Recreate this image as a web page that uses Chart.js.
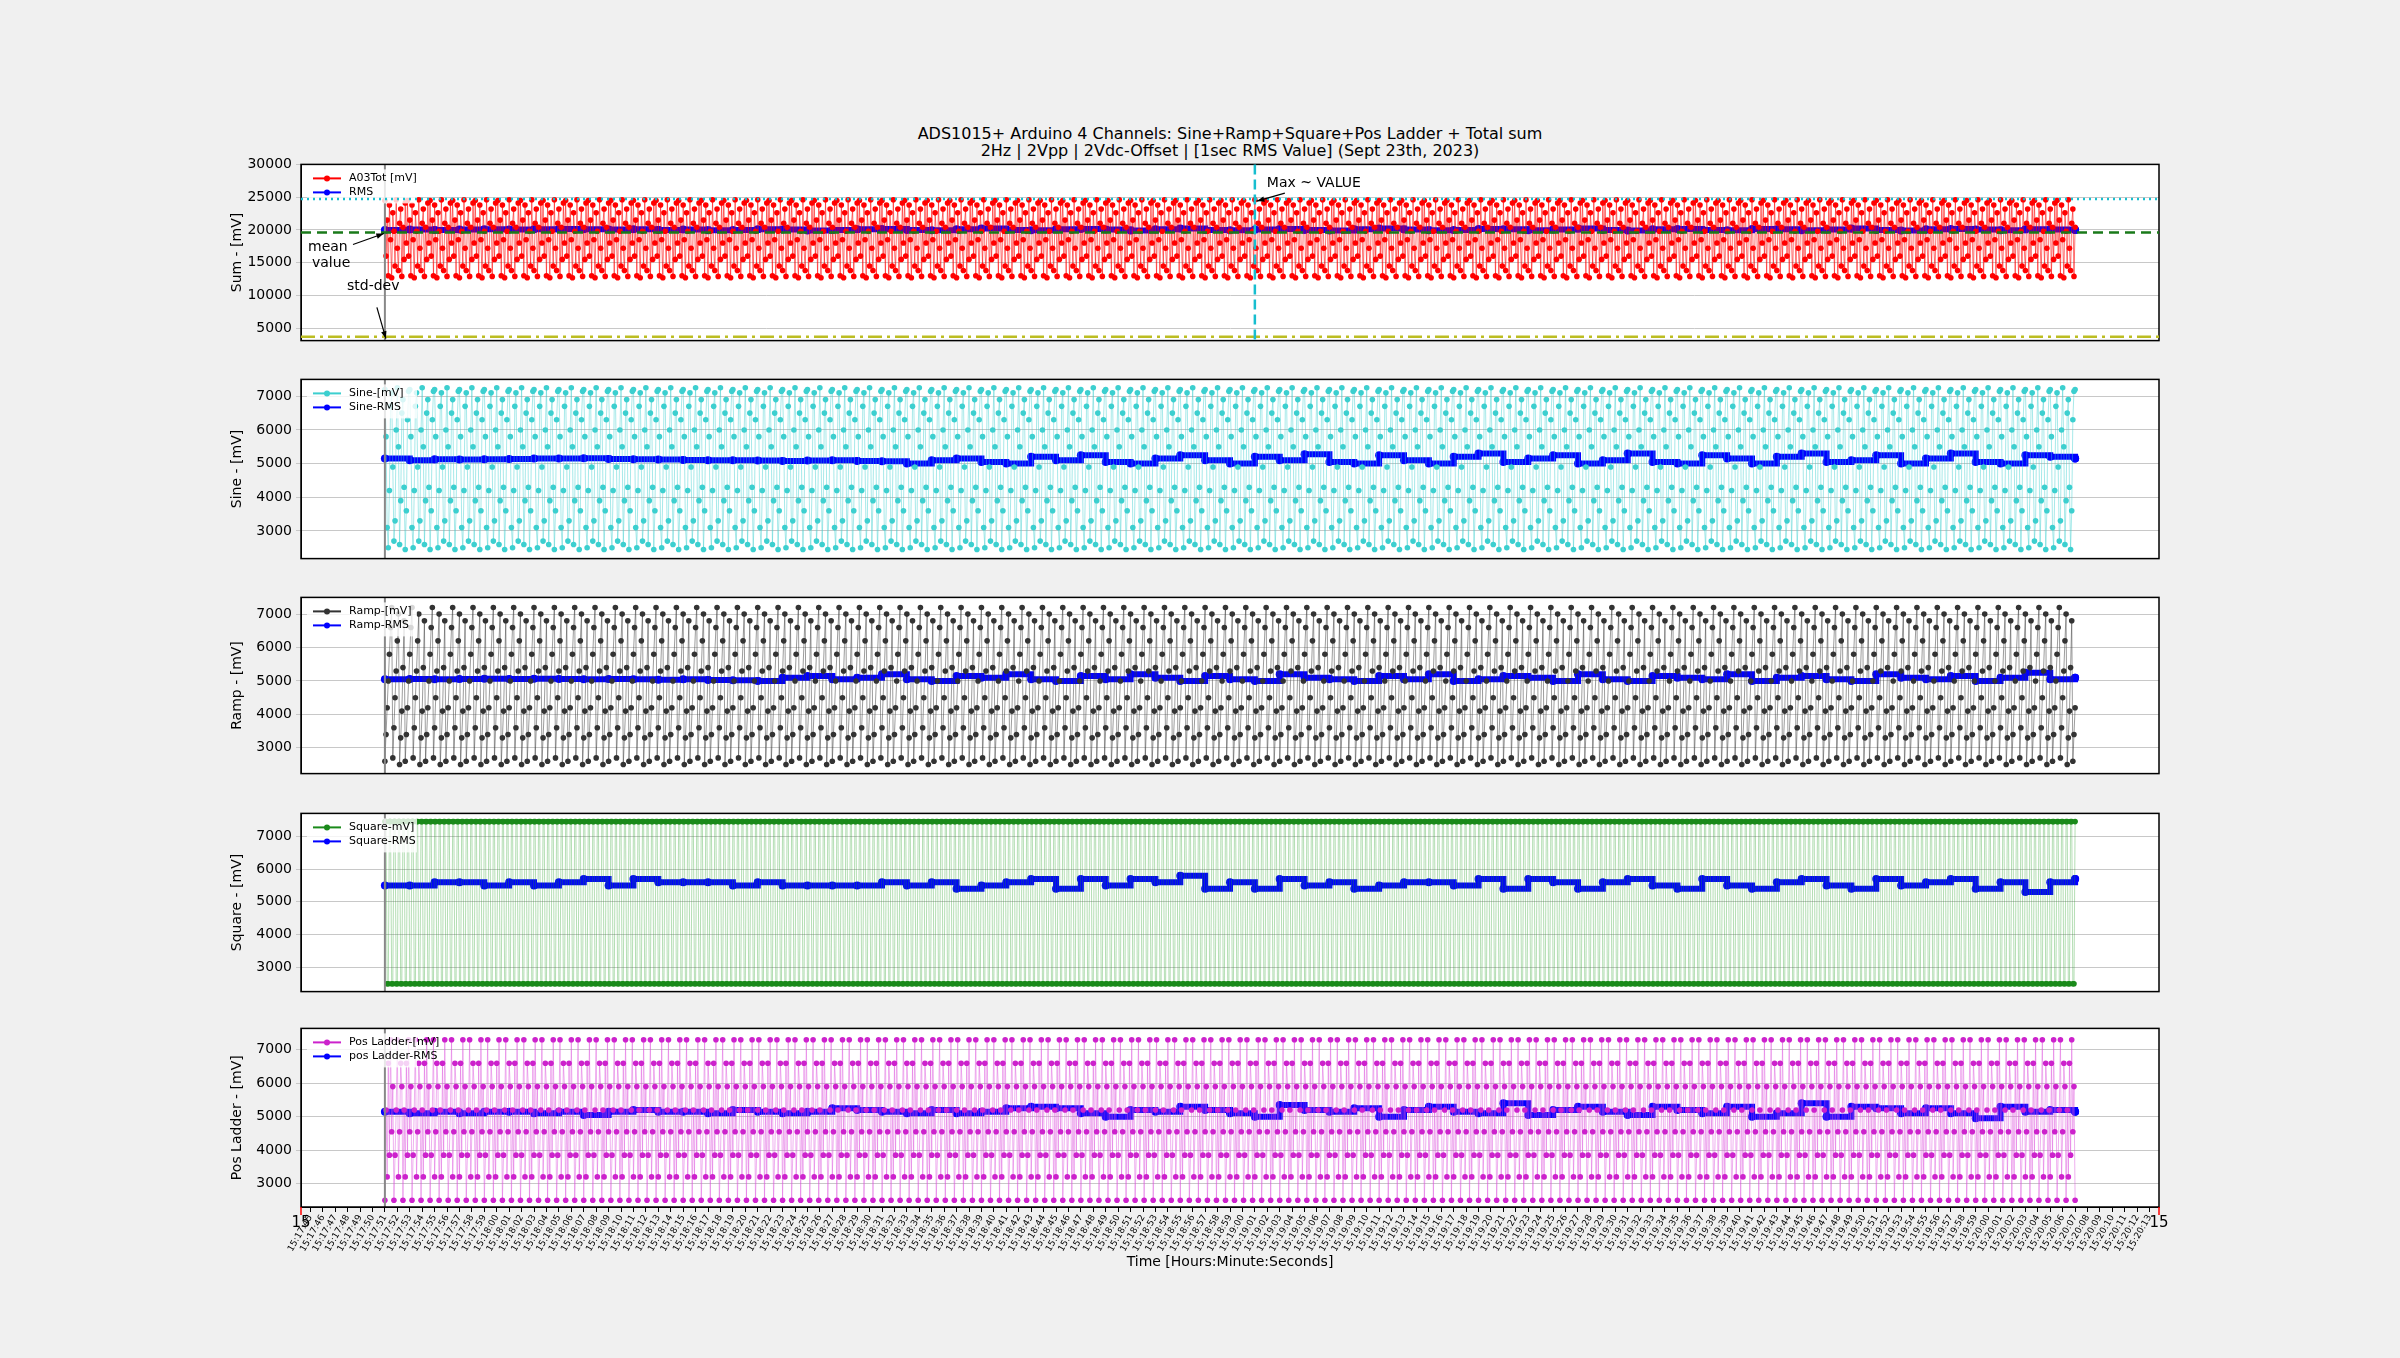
<!DOCTYPE html>
<html>
<head>
<meta charset="utf-8">
<script src="https://cdn.jsdelivr.net/npm/chart.js@4.4.0/dist/chart.umd.min.js"></script>
<style>
  body { margin: 0; background: #f0f0f0; width: 2400px; height: 1358px; position: relative; overflow: hidden; font-family: "DejaVu Sans", sans-serif; }
  canvas { position: absolute; left: 0; }
  .title { position: absolute; left: 301px; width: 1858px; text-align: center; font-size: 16px; line-height: 17px; top: 125px; color: #000; }
  .xlabel { position: absolute; left: 301px; width: 1858px; text-align: center; font-size: 14px; top: 1253px; }
</style>
</head>
<body>
<div class="title">ADS1015+ Arduino 4 Channels: Sine+Ramp+Square+Pos Ladder + Total sum<br>2Hz | 2Vpp | 2Vdc-Offset | [1sec RMS Value] (Sept 23th, 2023)</div>
<canvas id="c1"></canvas>
<canvas id="c2"></canvas>
<canvas id="c3"></canvas>
<canvas id="c4"></canvas>
<canvas id="c5"></canvas>
<div class="xlabel">Time [Hours:Minute:Seconds]</div>
<script>
//time axis: seconds after 15:17:45
const tStart = 6; //15:17:51
const tEnd = 142; //15:20:07
const samplesPerSec = 11;

//raw signal samples (repeated block)
const sumSamples = [24500, 16000, 21500, 13000, 23800, 18500, 12700, 22600, 19800, 14500, 24600, 17200, 13800, 21000, 23200, 12900, 20400, 15500, 24100, 18000];
const sineSamples = [7200, 5800, 3100, 2500, 4200, 6700, 7100, 4900, 2700, 3300, 6000, 7250, 5500, 2600, 3900, 6500, 6900, 4300, 2450, 3600, 6300, 7150];
const rampSamples = [2600, 3400, 4200, 5000, 5800, 6600, 7200, 2700, 3600, 4500, 5300, 6200, 7000, 2500, 3300, 4100, 5400, 6800];
const squareSamples = [7450, 7450, 2500, 2500];
const ladderSamples = [2500, 5200, 3200, 6600, 3850, 7300, 4550, 5900, 2500, 3850, 5200, 7300, 3200, 4550, 6600, 5900];

//RMS values, one per 2 seconds from 15:17:51
const sumRms = [20000, 20050, 20000, 20050, 20100, 20050, 20100, 20150, 20100, 20050, 20100, 20000, 20050, 19950, 20000, 20100, 20050, 19900, 20000, 20100, 20150, 20000, 19950, 20100, 20200, 20000, 19950, 20100, 20150, 20050, 19900, 20100, 20200, 20000, 19950, 20050, 20150, 20000, 19900, 20100, 20200, 20050, 19950, 20000, 20150, 20100, 19950, 20050, 20200, 20000, 19900, 20100, 20150, 20000, 19950, 20150, 20100, 19950, 20050, 20200, 20000, 19900, 20100, 20150, 20050, 19950, 20100, 20050, 20000];
const sineRms = [5150, 5100, 5130, 5120, 5130, 5140, 5150, 5150, 5160, 5140, 5130, 5120, 5110, 5100, 5100, 5090, 5080, 5090, 5100, 5080, 5070, 5000, 5100, 5150, 5050, 5000, 5200, 5100, 5250, 5050, 5000, 5150, 5250, 5100, 5000, 5200, 5100, 5280, 5050, 5000, 5250, 5100, 5000, 5200, 5300, 5050, 5150, 5250, 5000, 5100, 5300, 5050, 5000, 5250, 5150, 5000, 5200, 5300, 5050, 5100, 5250, 5000, 5150, 5300, 5050, 5000, 5250, 5200, 5150];
const rampRms = [5050, 5060, 5050, 5060, 5070, 5060, 5070, 5060, 5050, 5060, 5050, 5040, 5050, 5030, 5020, 5000, 5100, 5150, 5050, 5100, 5200, 5050, 5000, 5150, 5100, 5200, 5050, 5000, 5150, 5050, 5200, 5100, 5000, 5150, 5050, 5000, 5200, 5100, 5050, 5000, 5150, 5050, 5200, 5000, 5050, 5150, 5100, 5000, 5200, 5050, 5000, 5150, 5100, 5050, 5200, 5000, 5100, 5150, 5050, 5000, 5200, 5100, 5050, 5150, 5000, 5100, 5250, 5050, 5100];
const squareRms = [5500, 5500, 5600, 5600, 5500, 5600, 5500, 5600, 5700, 5500, 5700, 5600, 5600, 5600, 5500, 5600, 5500, 5500, 5500, 5500, 5600, 5500, 5600, 5400, 5500, 5600, 5700, 5400, 5700, 5500, 5700, 5600, 5800, 5400, 5600, 5400, 5700, 5500, 5600, 5400, 5500, 5600, 5600, 5500, 5700, 5400, 5700, 5600, 5400, 5600, 5700, 5500, 5400, 5700, 5500, 5400, 5600, 5700, 5500, 5400, 5700, 5500, 5600, 5700, 5400, 5600, 5300, 5600, 5700];
const ladderRms = [5150, 5100, 5150, 5100, 5150, 5150, 5100, 5150, 5050, 5150, 5200, 5150, 5150, 5100, 5200, 5150, 5100, 5150, 5250, 5200, 5150, 5100, 5200, 5100, 5150, 5250, 5300, 5250, 5100, 5000, 5200, 5150, 5300, 5200, 5100, 5000, 5350, 5200, 5150, 5250, 5000, 5200, 5300, 5150, 5100, 5400, 5050, 5200, 5300, 5150, 5050, 5300, 5200, 5100, 5300, 5000, 5100, 5400, 5000, 5300, 5250, 5100, 5250, 5100, 4950, 5300, 5150, 5200, 5150];

//reference lines top panel
const maxValue = 24700;
const meanValue = 19600;
const stdDevValue = 3700;
const maxTime = 76;

const xMin = -0.75, xMax = 148.75;
const plotLeft = 301, plotRight = 2159;

function tiled(samples) {
  const out = [];
  let i = 0;
  for (let k = 0; k <= (tEnd - tStart) * samplesPerSec; k++) {
    out.push({ x: tStart + k / samplesPerSec, y: samples[i % samples.length] });
    i++;
  }
  return out;
}
function rmsPoints(vals) {
  return vals.map((v, i) => ({ x: tStart + i * 2, y: v })).concat([{ x: tEnd, y: vals[vals.length - 1] }]);
}
function tickName(v) {
  const s = 45 + v;
  const m = 17 + Math.floor(s / 60);
  return "15:" + m + ":" + String(s % 60).padStart(2, "0");
}

const whiteArea = {
  id: "whiteArea",
  beforeDraw(chart) {
    const a = chart.chartArea, ctx = chart.ctx;
    ctx.save();
    ctx.fillStyle = "#fff";
    ctx.fillRect(a.left, a.top, a.width, a.height);
    ctx.restore();
  },
  afterDraw(chart) {
    const a = chart.chartArea, ctx = chart.ctx, x = chart.scales.x;
    ctx.save();
    //start marker line
    ctx.strokeStyle = "#888";
    ctx.lineWidth = 2;
    ctx.beginPath();
    ctx.moveTo(x.getPixelForValue(tStart), a.top);
    ctx.lineTo(x.getPixelForValue(tStart), a.bottom);
    ctx.stroke();
    ctx.strokeStyle = "#000";
    ctx.lineWidth = 1.5;
    ctx.strokeRect(a.left, a.top, a.width, a.height);
    //y title
    ctx.save();
    ctx.translate(237, (a.top + a.bottom) / 2);
    ctx.rotate(-Math.PI / 2);
    ctx.font = "14px DejaVu Sans"; ctx.fillStyle = "#000"; ctx.textAlign = "center"; ctx.textBaseline = "middle";
    ctx.fillText(chart.options.plugins.yTitle, 0, 0);
    ctx.restore();
    //legend
    const items = chart.options.plugins.innerLegend || [];
    ctx.font = "11px DejaVu Sans";
    ctx.textBaseline = "middle";
    ctx.fillStyle = "rgba(255,255,255,0.8)";
    ctx.fillRect(a.left + 6, a.top + 5, 110, 34);
    items.forEach((it, i) => {
      const y = a.top + 14 + i * 14;
      ctx.strokeStyle = it.c;
      ctx.fillStyle = it.c;
      ctx.lineWidth = 2;
      ctx.beginPath(); ctx.moveTo(a.left + 12, y); ctx.lineTo(a.left + 40, y); ctx.stroke();
      ctx.beginPath(); ctx.arc(a.left + 26, y, 3, 0, 2 * Math.PI); ctx.fill();
      ctx.fillStyle = "#000";
      ctx.fillText(it.t, a.left + 48, y);
    });
    ctx.restore();
  }
};

const annotate = {
  id: "annotate",
  afterDraw(chart) {
    const a = chart.chartArea, ctx = chart.ctx, x = chart.scales.x, y = chart.scales.y;
    ctx.save();
    function hline(v, color, dash, w) {
      ctx.strokeStyle = color; ctx.lineWidth = w; ctx.setLineDash(dash);
      ctx.beginPath(); ctx.moveTo(a.left, y.getPixelForValue(v)); ctx.lineTo(a.right, y.getPixelForValue(v)); ctx.stroke();
    }
    hline(maxValue, "#17becf", [2, 4], 2.5);
    hline(meanValue, "#1a7a1a", [10, 6], 2.5);
    hline(stdDevValue, "#bcbd22", [14, 5, 3, 5], 2.5);
    ctx.strokeStyle = "#17becf"; ctx.lineWidth = 2.5; ctx.setLineDash([10, 5]);
    const mx = x.getPixelForValue(maxTime);
    ctx.beginPath(); ctx.moveTo(mx, a.top); ctx.lineTo(mx, a.bottom); ctx.stroke();
    ctx.setLineDash([]);
    function arrow(x1, y1, x2, y2) {
      ctx.strokeStyle = "#000"; ctx.fillStyle = "#000"; ctx.lineWidth = 1.2;
      ctx.beginPath(); ctx.moveTo(x1, y1); ctx.lineTo(x2, y2); ctx.stroke();
      const ang = Math.atan2(y2 - y1, x2 - x1);
      ctx.beginPath();
      ctx.moveTo(x2, y2);
      ctx.lineTo(x2 - 8 * Math.cos(ang - 0.35), y2 - 8 * Math.sin(ang - 0.35));
      ctx.lineTo(x2 - 8 * Math.cos(ang + 0.35), y2 - 8 * Math.sin(ang + 0.35));
      ctx.closePath(); ctx.fill();
    }
    ctx.font = "14px DejaVu Sans";
    ctx.fillStyle = "#000";
    ctx.textBaseline = "alphabetic";
    const sx = x.getPixelForValue(tStart);
    ctx.fillText("Max ~ VALUE", mx + 12, y.getPixelForValue(maxValue) - 12);
    arrow(mx + 30, y.getPixelForValue(maxValue) - 6, mx + 2, y.getPixelForValue(maxValue) + 2);
    ctx.fillStyle = "#000";
    ctx.fillText("mean", a.left + 7, y.getPixelForValue(meanValue) + 18);
    ctx.fillText("value", a.left + 11, y.getPixelForValue(meanValue) + 34);
    arrow(a.left + 52, y.getPixelForValue(meanValue) + 12, sx - 1, y.getPixelForValue(meanValue) + 1);
    ctx.fillStyle = "#000";
    ctx.fillText("std-dev", a.left + 46, y.getPixelForValue(10000) - 5);
    arrow(sx - 8, y.getPixelForValue(10000) + 12, sx + 1, y.getPixelForValue(stdDevValue) + 2);
    ctx.restore();
  }
};

const endLabels = {
  id: "endLabels",
  afterDraw(chart) {
    const a = chart.chartArea, ctx = chart.ctx;
    ctx.save();
    ctx.strokeStyle = "red"; ctx.lineWidth = 1.5;
    [a.left, a.right].forEach((px) => {
      ctx.beginPath(); ctx.moveTo(px, a.bottom); ctx.lineTo(px, a.bottom + 8); ctx.stroke();
    });
    ctx.fillStyle = "#000"; ctx.font = "15px DejaVu Sans"; ctx.textAlign = "center"; ctx.textBaseline = "top";
    ctx.fillText("15", a.left, a.bottom + 9);
    ctx.fillText("15", a.right, a.bottom + 9);
    ctx.restore();
  }
};

function buildChart(cv, h, withX, extra, cfg) {
  cv.width = 2400; cv.height = h;
  cv.style.width = "2400px"; cv.style.height = h + "px";
  const plugins = [whiteArea];
  if (cfg.annotate) plugins.push(annotate);
  if (withX) plugins.push(endLabels);
  return new Chart(cv, {
    type: "line",
    data: { datasets: cfg.datasets },
    plugins: plugins,
    options: {
      responsive: false,
      animation: false,
      layout: { padding: { left: 0, right: 2400 - plotRight, top: 0, bottom: 0 } },
      plugins: { legend: { display: false }, tooltip: { enabled: false }, innerLegend: cfg.legend, yTitle: cfg.yTitle },
      scales: {
        x: {
          type: "linear", min: xMin, max: xMax,
          display: withX,
          afterBuildTicks(ax) { ax.ticks = []; for (let v = 0; v <= 148; v++) ax.ticks.push({ value: v }); },
          afterFit(ax) { ax.height = extra; },
          grid: { drawOnChartArea: false, color: "#000", tickLength: 5 },
          border: { color: "#000" },
          ticks: { autoSkip: false, maxRotation: 60, minRotation: 60, color: "#000", font: { size: 9, family: "DejaVu Sans" }, padding: 1, callback: (v) => tickName(v) }
        },
        y: {
          min: cfg.yMin, max: cfg.yMax,
          afterBuildTicks(ax) { ax.ticks = cfg.yTicks.map((v) => ({ value: v })); },
          afterFit(ax) { ax.width = plotLeft; },
          grid: { color: "#c8c8c8", tickLength: 5, drawTicks: true },
          border: { color: "#000" },
          ticks: { color: "#000", font: { size: 14, family: "DejaVu Sans" }, padding: 4, callback: (v) => String(v) }
        }
      }
    }
  });
}

function makePanel(id, top, bottom, withX, cfg) {
  const cv = document.getElementById(id);
  const extra = withX ? 80 : 0;
  const h = bottom - top + 40 + extra;
  //first pass: measure what the axes reserve
  let chart = buildChart(cv, h, withX, extra, cfg);
  const padTop = chart.chartArea.top;
  const padBottom = h - chart.chartArea.bottom - extra;
  chart.destroy();
  const nh = (bottom - top) + padTop + padBottom + extra;
  chart = buildChart(cv, nh, withX, extra, cfg);
  cv.style.top = (top - chart.chartArea.top) + "px";
  return chart;
}

function raw(data, color, lineColor) {
  return { data: data, borderColor: lineColor, backgroundColor: color, pointBackgroundColor: color, pointBorderWidth: 0, borderWidth: 1, pointRadius: 2.8, tension: 0 };
}
function rms(data) {
  return { data: data, borderColor: "#0000ff", backgroundColor: "#0000ff", borderWidth: 6, pointRadius: 4, pointBorderWidth: 0, stepped: "before" };
}

makePanel("c1", 164, 341, false, {
  yMin: 3100, yMax: 30000, yTicks: [5000, 10000, 15000, 20000, 25000, 30000], yTitle: "Sum - [mV]", annotate: true,
  legend: [{ t: "A03Tot [mV]", c: "#ff0000" }, { t: "RMS", c: "#0000ff" }],
  datasets: [raw(tiled(sumSamples), "#ff0000", "rgba(255,0,0,0.55)"), rms(rmsPoints(sumRms))]
});
makePanel("c2", 379, 559, false, {
  yMin: 2180, yMax: 7500, yTicks: [3000, 4000, 5000, 6000, 7000], yTitle: "Sine - [mV]",
  legend: [{ t: "Sine-[mV]", c: "#3ccfcf" }, { t: "Sine-RMS", c: "#0000ff" }],
  datasets: [raw(tiled(sineSamples), "#3ccfcf", "rgba(60,207,207,0.45)"), rms(rmsPoints(sineRms))]
});
makePanel("c3", 597, 774, false, {
  yMin: 2230, yMax: 7500, yTicks: [3000, 4000, 5000, 6000, 7000], yTitle: "Ramp - [mV]",
  legend: [{ t: "Ramp-[mV]", c: "#333333" }, { t: "Ramp-RMS", c: "#0000ff" }],
  datasets: [raw(tiled(rampSamples), "#333333", "rgba(60,60,60,0.5)"), rms(rmsPoints(rampRms))]
});
makePanel("c4", 813, 992, false, {
  yMin: 2260, yMax: 7700, yTicks: [3000, 4000, 5000, 6000, 7000], yTitle: "Square - [mV]",
  legend: [{ t: "Square-mV]", c: "#1a8a1a" }, { t: "Square-RMS", c: "#0000ff" }],
  datasets: [raw(tiled(squareSamples), "#1a8a1a", "rgba(40,160,40,0.35)"), rms(rmsPoints(squareRms))]
});
makePanel("c5", 1028, 1207, true, {
  yMin: 2300, yMax: 7640, yTicks: [3000, 4000, 5000, 6000, 7000], yTitle: "Pos Ladder - [mV]",
  legend: [{ t: "Pos Ladder-[mV]", c: "#cc22cc" }, { t: "pos Ladder-RMS", c: "#0000ff" }],
  datasets: [raw(tiled(ladderSamples), "#cc22cc", "rgba(220,80,220,0.45)"), rms(rmsPoints(ladderRms))]
});
</script>
</body>
</html>
